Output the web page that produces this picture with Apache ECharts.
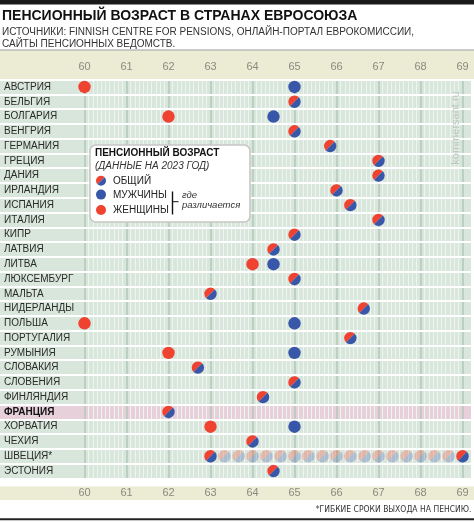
<!DOCTYPE html>
<html><head><meta charset="utf-8">
<script src="https://cdn.jsdelivr.net/npm/echarts@6/dist/echarts.min.js"></script>
<style>html,body{margin:0;padding:0;background:#fff}#c{width:474px;height:522px}</style>
</head><body><div id="c"></div>
<script>
const countries = ['АВСТРИЯ','БЕЛЬГИЯ','БОЛГАРИЯ','ВЕНГРИЯ','ГЕРМАНИЯ','ГРЕЦИЯ','ДАНИЯ','ИРЛАНДИЯ','ИСПАНИЯ','ИТАЛИЯ','КИПР','ЛАТВИЯ','ЛИТВА','ЛЮКСЕМБУРГ','МАЛЬТА','НИДЕРЛАНДЫ','ПОЛЬША','ПОРТУГАЛИЯ','РУМЫНИЯ','СЛОВАКИЯ','СЛОВЕНИЯ','ФИНЛЯНДИЯ','ФРАНЦИЯ','ХОРВАТИЯ','ЧЕХИЯ','ШВЕЦИЯ*','ЭСТОНИЯ'];
const commonAge = [null,65,null,65,65.85,67,67,66,66.33,67,65,64.5,null,65,63,66.65,null,66.33,null,62.7,65,64.25,62,null,64,63,64.5];
const menAge    = [65,null,64.5,null,null,null,null,null,null,null,null,null,64.5,null,null,null,65,null,65,null,null,null,null,65,null,null,null];
const womenAge  = [60,null,62,null,null,null,null,null,null,null,null,null,64,null,null,null,60,null,62,null,null,null,null,63,null,null,null];
const swedenMaxAge = 69;
const swedenFlexAges = [63.33,63.67,64,64.33,64.67,65,65.33,65.67,66,66.33,66.67,67,67.33,67.67,68,68.33,68.67];
const highlighted = 'ФРАНЦИЯ';

const RED = '#ef4230', BLUE = '#3857a8';
const FONT = "'Liberation Sans', Arial, sans-serif";

function pairs(arr){ const out=[]; arr.forEach((v,i)=>{ if(v!=null) out.push([v,countries[i]]); }); return out; }
const commonData = pairs(commonAge).concat([[swedenMaxAge,'ШВЕЦИЯ*']]);
const flexData = swedenFlexAges.map(v=>[v,'ШВЕЦИЯ*']);

function splitDot(opacity){
  return function(params, api){
    const p = api.coord([api.value(0), api.value(1)]);
    const r = 6.2;
    return {type:'group', children:[
      {type:'sector', shape:{cx:p[0],cy:p[1],r0:0,r:r,startAngle:Math.PI*0.75,endAngle:Math.PI*1.75,clockwise:true}, style:{fill:RED, opacity:opacity}},
      {type:'sector', shape:{cx:p[0],cy:p[1],r0:0,r:r,startAngle:Math.PI*1.75,endAngle:Math.PI*2.75,clockwise:true}, style:{fill:BLUE, opacity:opacity}}
    ]};
  };
}

const LZ = 40;
const legendEls = [
  {type:'rect', shape:{x:90,y:145,width:160,height:77,r:6}, style:{fill:'#fff', stroke:'#c6c6c6', lineWidth:1.5}},
  {type:'text', x:95, y:152.8, style:{text:'ПЕНСИОННЫЙ ВОЗРАСТ', font:"bold 10px "+FONT, fill:'#111', verticalAlign:'middle'}},
  {type:'text', x:95, y:166, style:{text:'(ДАННЫЕ НА 2023 ГОД)', font:"italic 10px "+FONT, fill:'#333', verticalAlign:'middle'}},
  {type:'sector', shape:{cx:101,cy:180.7,r0:0,r:5,startAngle:Math.PI*0.75,endAngle:Math.PI*1.75}, style:{fill:RED}},
  {type:'sector', shape:{cx:101,cy:180.7,r0:0,r:5,startAngle:Math.PI*1.75,endAngle:Math.PI*2.75}, style:{fill:BLUE}},
  {type:'circle', shape:{cx:101,cy:194.6,r:5}, style:{fill:BLUE}},
  {type:'circle', shape:{cx:101,cy:210,r:5}, style:{fill:RED}},
  {type:'text', x:113, y:181, style:{text:'ОБЩИЙ', font:"10px "+FONT, fill:'#222', verticalAlign:'middle'}},
  {type:'text', x:113, y:195, style:{text:'МУЖЧИНЫ', font:"10px "+FONT, fill:'#222', verticalAlign:'middle'}},
  {type:'text', x:113, y:210.5, style:{text:'ЖЕНЩИНЫ', font:"10px "+FONT, fill:'#222', verticalAlign:'middle'}},
  {type:'line', shape:{x1:172.5,y1:191.5,x2:172.5,y2:214.5}, style:{stroke:'#111', lineWidth:1.4}},
  {type:'line', shape:{x1:172.5,y1:201.7,x2:178.5,y2:201.7}, style:{stroke:'#111', lineWidth:1}},
  {type:'text', x:182, y:195.5, style:{text:'где', font:"italic 9.5px "+FONT, fill:'#333', verticalAlign:'middle'}},
  {type:'text', x:182, y:205.5, style:{text:'различается', font:"italic 9.5px "+FONT, fill:'#333', verticalAlign:'middle'}}
].map((e,i)=>Object.assign(e,{z:LZ, z2:i}));

const TOP = 79.6, H = 398.8;
const chart = echarts.init(document.getElementById('c'), null, {renderer:'canvas'});
chart.setOption({
  animation:false,
  textStyle:{fontFamily:FONT},
  grid:[
    {left:0, right:3, top:TOP, height:H, show:true, backgroundColor:'#d8e6db', borderWidth:0, z:0},
    {left:84.5, right:11.5, top:TOP, height:H, show:false}
  ],
  xAxis:[
    {gridIndex:0, type:'value', min:0, max:1, show:false},
    {gridIndex:1, type:'value', min:60, max:69, interval:1, position:'top', z:2,
      axisLine:{show:false}, axisTick:{show:false},
      axisLabel:{color:'#8a8a80', fontSize:11, margin:7, fontFamily:FONT},
      splitLine:{show:true, lineStyle:{color:'#b3c8b7', width:1.5}},
      minorTick:{show:false, splitNumber:10},
      minorSplitLine:{show:true, lineStyle:{color:'#eef4ef', width:1}}},
    {gridIndex:1, type:'value', min:60, max:69, interval:1, position:'bottom',
      axisLine:{show:false}, axisTick:{show:false}, splitLine:{show:false},
      axisLabel:{color:'#8a8a80', fontSize:11, margin:9, fontFamily:FONT}}
  ],
  yAxis:[
    {gridIndex:0, type:'category', data:countries, inverse:true, z:3,
      axisLine:{show:false}, axisTick:{show:false},
      axisLabel:{inside:true, margin:4, color:'#2a2a2a', fontSize:10, fontFamily:FONT,
        formatter:v=> v===highlighted ? '{b|'+v+'}' : v,
        rich:{b:{fontWeight:'bold', fontSize:10, color:'#111', fontFamily:FONT}}},
      splitLine:{show:true, lineStyle:{color:'#ffffff', width:2}}},
    {gridIndex:1, type:'category', data:countries, inverse:true, show:false}
  ],
  graphic:[
    {type:'rect', shape:{x:0,y:0,width:474,height:4.5}, style:{fill:'#1a1a1a'}},
    {type:'text', x:2, y:16, style:{text:'ПЕНСИОННЫЙ ВОЗРАСТ В СТРАНАХ ЕВРОСОЮЗА', font:"bold 14px "+FONT, fill:'#111', verticalAlign:'middle'}},
    {type:'text', x:2, y:31.8, style:{text:'ИСТОЧНИКИ: FINNISH CENTRE FOR PENSIONS, ОНЛАЙН-ПОРТАЛ ЕВРОКОМИССИИ,', font:"10px "+FONT, fill:'#333', verticalAlign:'middle'}},
    {type:'text', x:2, y:44.4, style:{text:'САЙТЫ ПЕНСИОННЫХ ВЕДОМСТВ.', font:"10px "+FONT, fill:'#333', verticalAlign:'middle'}},
    {type:'rect', shape:{x:0,y:49.5,width:474,height:1}, style:{fill:'#9a9a9a'}},
    {type:'rect', shape:{x:0,y:50.5,width:474,height:28.5}, style:{fill:'#ecebd3'}, z:-1},
    {type:'rect', shape:{x:0,y:486.5,width:474,height:13.5}, style:{fill:'#ecebd3'}, z:-1},
    {type:'text', x:471.5, y:510, style:{text:'*ГИБКИЕ СРОКИ ВЫХОДА НА ПЕНСИЮ.', font:"8.5px 'Liberation Sans Narrow', 'DejaVu Sans Condensed', "+FONT, fill:'#333', align:'right', verticalAlign:'middle'}},
    {type:'rect', shape:{x:0,y:518.3,width:474,height:2}, style:{fill:'#222'}},
    {type:'text', x:456, y:128, rotation:Math.PI/2, z:20, style:{text:'kommersant.ru', font:"11px "+FONT, fill:'#bcc6c0', align:'center', verticalAlign:'middle'}}
  ].concat(legendEls),
  series:[
    {type:'bar', xAxisIndex:0, yAxisIndex:0, z:1, barWidth:'100%', silent:true,
      data:countries.map(c=> c===highlighted ? 1 : null), itemStyle:{color:'#e7d0da'}},
    {type:'custom', name:'flex', xAxisIndex:1, yAxisIndex:1, z:10, renderItem:splitDot(0.28), data:flexData, encode:{x:0,y:1}},
    {type:'scatter', name:'МУЖЧИНЫ', xAxisIndex:1, yAxisIndex:1, z:11, symbolSize:12.4, itemStyle:{color:BLUE, opacity:1}, data:pairs(menAge)},
    {type:'scatter', name:'ЖЕНЩИНЫ', xAxisIndex:1, yAxisIndex:1, z:11, symbolSize:12.4, itemStyle:{color:RED, opacity:1}, data:pairs(womenAge)},
    {type:'custom', name:'ОБЩИЙ', xAxisIndex:1, yAxisIndex:1, z:12, renderItem:splitDot(1), data:commonData, encode:{x:0,y:1}}
  ]
});
</script></body></html>
